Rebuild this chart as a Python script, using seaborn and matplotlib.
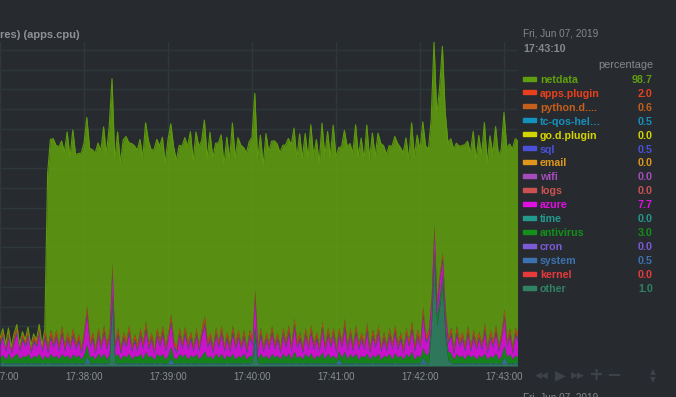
import pandas as pd
import matplotlib
matplotlib.use("Agg")
import matplotlib.pyplot as plt
from matplotlib.patches import Rectangle
import seaborn as sns

# one sample every 2 s, 17:37:00 -> 17:43:10
start_time = "2019-06-07 17:37:00"
n_points = 186

dimensions = ["netdata", "apps.plugin", "python.d.plugin", "tc-qos-helper", "go.d.plugin",
              "sql", "email", "wifi", "logs", "azure", "time", "antivirus", "cron",
              "system", "kernel", "other"]
legend_names = ["netdata", "apps.plugin", "python.d....", "tc-qos-hel\u2026", "go.d.plugin",
                "sql", "email", "wifi", "logs", "azure", "time", "antivirus", "cron",
                "system", "kernel", "other"]
legend_colors = ["#5f9e0f", "#e8401c", "#c45f1c", "#1591bd", "#d4d400", "#4a50d8",
                 "#e0961a", "#a64bbb", "#cc5252", "#e010e0", "#22998c", "#138f1a",
                 "#7c5ad8", "#3c72b0", "#e83a3a", "#2f8262"]
tick_labels = ["17:37:00", "17:38:00", "17:39:00", "17:40:00", "17:41:00", "17:42:00", "17:43:00"]

netdata = [0, 0, 0, 0, 0, 0, 0, 0, 0, 0,
           0, 0, 0, 0, 0, 0, 0, 87, 96, 102,
           93, 100, 93, 97, 101, 93, 100, 95, 91, 98,
           93, 95, 97, 92, 98, 93, 97, 100, 95, 103,
           93, 91, 99, 93, 97, 103, 92, 102, 95, 98,
           95, 93, 100, 102, 92, 100, 95, 98, 95, 92,
           97, 96, 98, 94, 92, 99, 95, 99, 101, 93,
           99, 100, 94, 99, 92, 101, 95, 93, 100, 96,
           91, 98, 94, 102, 93, 97, 100, 92, 98, 95,
           101, 99, 93, 97, 91, 100, 96, 93, 102, 95,
           98, 92, 99, 94, 101, 96, 92, 100, 95, 98,
           93, 101, 94, 97, 92, 100, 95, 99, 93, 102,
           96, 91, 98, 95, 100, 93, 97, 101, 94, 98,
           92, 100, 95, 99, 93, 97, 102, 94, 96, 92,
           99, 95, 101, 93, 98, 96, 91, 100, 95, 98,
           96, 93, 96, 91, 89, 92, 93, 93, 104, 99,
           98, 95, 100, 92, 98, 94, 101, 93, 97, 100,
           92, 99, 95, 101, 93, 98, 94, 100, 96, 92,
           99, 97, 93, 100, 95, 98.7]

apps_plugin = [2.0, 2.5, 1.8, 3.0, 1.6, 2.2, 2.8, 1.7, 2.4, 2.0,
               2.6, 1.8, 2.3, 2.0, 2.9, 1.6, 2.4, 1.9, 2.7, 2.1,
               2.5, 1.7, 3.0, 1.9, 2.4, 2.0, 2.7, 1.8, 2.3, 1.6,
               2.8, 3.2, 2.0, 2.4, 1.7, 2.6, 1.9, 2.8, 2.0, 2.5,
               3.0, 1.8, 2.5, 1.6, 2.3, 2.0, 2.9, 1.7, 2.4, 1.9,
               2.7, 2.0, 3.1, 1.8, 2.3, 1.6, 2.6, 2.0, 2.8, 1.8,
               2.4, 3.0, 2.1, 1.7, 2.6, 1.9, 2.8, 2.0, 2.3, 1.6,
               2.5, 1.9, 2.9, 3.2, 2.0, 2.4, 1.7, 2.6, 2.0, 2.8,
               1.8, 2.4, 1.7, 2.9, 2.0, 2.6, 1.8, 2.3, 1.6, 2.5,
               2.2, 3.4, 1.9, 2.6, 1.7, 2.4, 2.0, 2.8, 1.8, 2.3,
               1.6, 2.5, 2.0, 2.9, 1.8, 3.1, 2.0, 2.4, 1.7, 2.6,
               1.9, 2.8, 2.0, 2.3, 1.6, 3.0, 1.8, 2.5, 2.0, 2.7,
               1.7, 2.4, 2.0, 3.2, 1.8, 2.6, 1.7, 2.8, 2.0, 2.3,
               1.8, 2.9, 1.6, 2.5, 2.0, 2.7, 1.8, 2.3, 1.7, 2.6,
               2.0, 2.8, 1.8, 2.4, 1.6, 2.5, 2.0, 3.0, 1.8, 2.6,
               2.1, 3.5, 2.2, 2.4, 2.6, 3.0, 2.2, 2.5, 2.8, 2.3,
               1.9, 2.6, 1.7, 2.8, 2.0, 2.4, 1.8, 2.9, 1.7, 2.5,
               2.0, 2.4, 1.8, 3.0, 1.7, 2.6, 2.0, 2.8, 1.8, 2.3,
               3.2, 2.0, 2.5, 1.7, 2.7, 2.0]

azure = [6, 9, 4, 8, 3, 7, 10, 4, 8, 5,
         9, 3, 7, 5, 10, 4, 9, 3, 8, 5,
         9, 4, 10, 3, 8, 5, 9, 4, 7, 3,
         9, 15, 5, 8, 3, 9, 4, 10, 5, 8,
         12, 4, 9, 3, 8, 5, 10, 4, 7, 3,
         9, 5, 11, 4, 8, 3, 9, 5, 10, 4,
         8, 12, 5, 3, 9, 4, 10, 5, 8, 3,
         9, 4, 10, 13, 5, 8, 3, 9, 5, 10,
         4, 8, 3, 10, 5, 9, 4, 8, 3, 9,
         6, 14, 4, 9, 3, 8, 5, 10, 4, 8,
         3, 9, 5, 10, 4, 12, 5, 8, 3, 9,
         4, 10, 5, 8, 3, 11, 4, 9, 5, 10,
         3, 8, 5, 12, 4, 9, 3, 10, 5, 8,
         4, 11, 3, 9, 5, 10, 4, 8, 3, 9,
         5, 10, 4, 8, 3, 9, 5, 11, 4, 9,
         5, 16, 6, 8, 8, 9, 5, 8, 7, 6,
         4, 9, 3, 10, 5, 8, 4, 10, 3, 9,
         5, 8, 4, 11, 3, 9, 5, 10, 4, 8,
         14, 5, 9, 3, 10, 7.7]

antivirus = [3, 4, 2, 5, 2, 4, 5, 2, 4, 3,
             5, 2, 4, 3, 5, 2, 4, 2, 5, 3,
             4, 2, 5, 3, 4, 2, 5, 3, 4, 2,
             5, 6, 3, 4, 2, 5, 3, 5, 2, 4,
             5, 3, 5, 2, 4, 3, 5, 2, 4, 3,
             5, 2, 6, 3, 4, 2, 5, 3, 5, 2,
             4, 6, 3, 2, 5, 3, 5, 2, 4, 3,
             5, 2, 4, 6, 3, 4, 2, 5, 3, 5,
             2, 4, 3, 5, 2, 4, 3, 5, 2, 4,
             3, 6, 2, 5, 3, 4, 2, 5, 3, 4,
             2, 5, 3, 5, 2, 6, 3, 4, 2, 5,
             3, 5, 2, 4, 3, 6, 2, 5, 3, 4,
             2, 4, 3, 6, 2, 5, 3, 5, 2, 4,
             3, 5, 2, 4, 3, 5, 2, 4, 3, 5,
             2, 5, 3, 4, 2, 5, 3, 6, 2, 4,
             3, 5, 4, 5, 5, 6, 5, 5, 6, 5,
             4, 5, 2, 5, 3, 4, 2, 5, 3, 4,
             2, 4, 3, 5, 2, 4, 3, 5, 2, 4,
             6, 3, 5, 2, 4, 3.0]

system = [0.5, 0.6, 0.4, 0.5, 0.5, 0.6, 0.4, 0.5, 0.5, 0.6,
          0.4, 0.5, 0.5, 0.6, 0.4, 0.5, 0.5, 0.6, 0.4, 0.5,
          0.5, 0.6, 0.4, 0.5, 0.5, 0.6, 0.4, 0.5, 0.5, 0.6,
          0.4, 3.0, 0.5, 0.6, 0.4, 0.5, 0.5, 0.6, 0.4, 0.5,
          0.8, 0.6, 0.4, 0.5, 0.5, 0.6, 0.4, 0.5, 0.5, 0.6,
          0.4, 0.5, 0.5, 0.6, 0.4, 0.5, 0.5, 0.6, 0.4, 0.5,
          0.5, 3.0, 0.4, 0.5, 0.5, 0.6, 0.4, 0.5, 0.5, 0.6,
          0.4, 0.5, 0.5, 0.6, 0.4, 0.5, 0.5, 0.6, 0.4, 0.5,
          0.5, 0.6, 0.4, 0.5, 0.5, 0.6, 0.4, 0.5, 0.5, 0.6,
          0.4, 4.0, 0.5, 0.6, 0.4, 0.5, 0.5, 0.6, 0.4, 0.5,
          0.5, 0.6, 0.4, 0.5, 0.5, 0.6, 0.4, 0.5, 0.5, 0.6,
          0.4, 0.5, 0.5, 0.6, 0.4, 0.5, 0.5, 0.6, 0.4, 0.5,
          0.5, 2.5, 0.4, 0.5, 0.5, 0.6, 0.4, 0.5, 0.5, 0.6,
          0.4, 0.5, 0.5, 0.6, 0.4, 0.5, 0.5, 0.6, 0.4, 0.5,
          0.5, 0.6, 0.4, 0.5, 0.5, 0.6, 0.4, 0.5, 0.5, 0.6,
          0.4, 3.0, 0.5, 0.6, 0.4, 0.5, 0.5, 0.6, 0.4, 0.5,
          0.5, 0.6, 0.4, 0.5, 0.5, 0.6, 0.4, 0.5, 0.5, 0.6,
          0.4, 0.5, 0.5, 0.6, 0.4, 0.5, 0.5, 0.6, 0.4, 0.5,
          3.0, 0.6, 0.4, 0.5, 0.5, 0.5]

other = [1.0, 1.2, 0.9, 1.1, 1.0, 0.8, 1.2, 1.0, 0.9, 1.1,
         1.0, 1.2, 0.9, 1.0, 1.1, 0.8, 1.0, 1.2, 1.0, 0.9,
         1.1, 1.0, 0.9, 1.2, 1.0, 1.1, 0.8, 1.0, 1.2, 0.9,
         1.0, 2.0, 1.1, 0.9, 1.0, 1.2, 0.8, 1.0, 1.1, 1.5,
         30.0, 1.5, 1.0, 0.9, 1.1, 1.0, 1.2, 0.8, 1.0, 1.1,
         1.0, 1.2, 0.9, 1.0, 1.1, 0.8, 1.0, 1.2, 1.0, 0.9,
         1.1, 1.0, 0.9, 1.2, 1.0, 1.1, 0.8, 1.0, 1.2, 0.9,
         1.0, 1.2, 0.9, 1.1, 1.0, 0.8, 1.2, 1.0, 0.9, 1.1,
         1.0, 1.2, 0.9, 1.0, 1.1, 0.8, 1.0, 1.2, 1.0, 0.9,
         1.5, 10.0, 1.2, 1.0, 0.9, 1.1, 1.0, 0.8, 1.2, 1.0,
         1.1, 1.0, 0.9, 1.2, 1.0, 1.1, 0.8, 1.0, 1.2, 0.9,
         1.0, 1.2, 0.9, 1.1, 1.0, 0.8, 1.2, 1.0, 0.9, 1.1,
         1.0, 1.2, 0.9, 1.0, 1.1, 0.8, 1.0, 1.2, 1.0, 0.9,
         1.1, 1.0, 0.9, 1.2, 1.0, 1.1, 0.8, 1.0, 1.2, 0.9,
         1.0, 1.2, 0.9, 1.1, 1.0, 0.8, 1.2, 1.0, 0.9, 1.1,
         1.0, 1.5, 1.2, 1.0, 18.0, 52.0, 20.0, 30.0, 40.0, 14.0,
         3.0, 1.2, 1.0, 0.9, 1.1, 1.0, 1.2, 0.8, 1.0, 1.1,
         1.0, 1.2, 0.9, 1.0, 1.1, 0.8, 1.0, 1.2, 1.0, 0.9,
         1.5, 1.1, 0.9, 1.0, 1.2, 1.0]

# steady dimensions (read as flat over the window)
python_d = [0.6] * n_points
tc_qos = [0.5] * n_points
sql = [0.5] * n_points
zero_dim = [0.0] * n_points

values = {
    "netdata": netdata, "apps.plugin": apps_plugin, "python.d.plugin": python_d,
    "tc-qos-helper": tc_qos, "go.d.plugin": zero_dim, "sql": sql, "email": zero_dim,
    "wifi": zero_dim, "logs": zero_dim, "azure": azure, "time": zero_dim,
    "antivirus": antivirus, "cron": zero_dim, "system": system, "kernel": zero_dim,
    "other": other,
}
times = pd.date_range(start_time, periods=n_points, freq="2s")
df = pd.DataFrame(values, index=times)

bg = "#272b30"
grid_c = "#2e3739"
muted = "#8e9297"
soft = "#85898e"

sns.set_theme(style="dark", rc={"figure.facecolor": bg, "axes.facecolor": bg})
plt.rcParams["font.family"] = ["Liberation Sans", "DejaVu Sans"]

W, H = 676, 397
fig = plt.figure(figsize=(W / 100, H / 100), dpi=100)
ax = fig.add_axes([0, 31 / H, 517 / W, 324 / H])
ax.set_facecolor(bg)

# netdata stacks the last dimension at the bottom
stack_order = dimensions[::-1]
stack_colors = legend_colors[::-1]
ax.stackplot(df.index, *[df[c].values for c in stack_order], colors=stack_colors,
             alpha=0.88, linewidth=0)

top = df[dimensions].sum(axis=1)
sns.lineplot(x=df.index, y=top.values, ax=ax, color="#5f9a0c", linewidth=0.8)

ax.set_xlim(pd.Timestamp("2019-06-07 17:37:00"), pd.Timestamp("2019-06-07 17:43:09.3"))
ax.set_ylim(0, 164)
ax.set_xticks(pd.to_datetime(["2019-06-07 " + t for t in tick_labels]))
ax.set_xticklabels(tick_labels)
ax.set_yticks(range(0, 170, 10))
ax.tick_params(axis="y", labelleft=False, length=0)
ax.tick_params(axis="x", length=0, labelsize=7, colors="#8a8f94", pad=4.5)
ax.grid(True, color=grid_c, linewidth=1)
ax.set_axisbelow(True)
for s in ax.spines.values():
    s.set_visible(False)
ax.set_xlabel("")
ax.set_ylabel("")

# title (cut at the left edge in the screenshot)
fig.text(0, 1 - 34.5 / H, "res) (apps.cpu)", fontsize=8, fontweight="bold",
         color=muted, va="center", ha="left")

# legend panel
fig.text(523 / W, 1 - 34 / H, "Fri, Jun 07, 2019", fontsize=7.2, color=soft,
         va="center", ha="left")
fig.text(523 / W, 1 - 49 / H, "17:43:10", fontsize=7.7, fontweight="bold",
         color=soft, va="center", ha="left")
fig.text(653 / W, 1 - 64.5 / H, "percentage", fontsize=7.8, color=soft,
         va="center", ha="right")
for k, (dim, name, col) in enumerate(zip(dimensions, legend_names, legend_colors)):
    yc = 79 + 13.95 * k
    fig.patches.append(Rectangle((523 / W, 1 - (yc + 1.5) / H), 13 / W, 4 / H,
                                 transform=fig.transFigure, color=col, figure=fig))
    fig.text(540 / W, 1 - (yc + 0.8) / H, name, fontsize=7.7, fontweight="bold", color=col,
             va="center", ha="left")
    fig.text(653 / W, 1 - (yc + 0.8) / H, f"{df[dim].iloc[-1]:.1f}", fontsize=7.7,
             fontweight="bold", color=col, va="center", ha="right")

# navigation buttons
nav_c = "#3d4248"
nav_y = 1 - 375.5 / H
for xp, glyph, size in [(542, "\u25c0\u25c0", 6.5), (560, "\u25b6", 10),
                        (578, "\u25b6\u25b6", 6.5)]:
    fig.text(xp / W, nav_y, glyph, fontsize=size, color=nav_c, ha="center",
             va="center", family="DejaVu Sans")
fig.text(596 / W, nav_y, "+", fontsize=13, fontweight="bold", color=nav_c,
         ha="center", va="center", family="DejaVu Sans")
fig.text(614 / W, nav_y, "\u2212", fontsize=13, fontweight="bold", color=nav_c,
         ha="center", va="center", family="DejaVu Sans")
fig.text(653 / W, 1 - 375.5 / H, "\u25b2\n\u25bc", fontsize=5.5, color=nav_c,
         ha="center", va="center", linespacing=0.9, family="DejaVu Sans")

# next chart's header, cut by the bottom edge
fig.text(523 / W, 1 - 392 / H, "Fri, Jun 07, 2019", fontsize=7.2, color=soft,
         va="top", ha="left")

fig.savefig("out.png", dpi=100, facecolor=bg)
